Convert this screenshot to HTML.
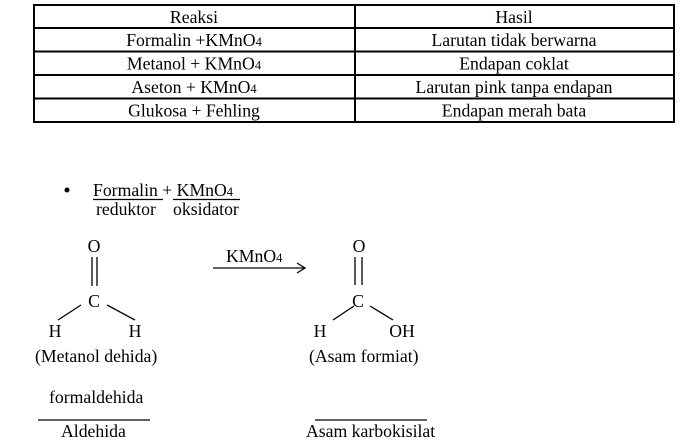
<!DOCTYPE html>
<html><head><meta charset="utf-8"><style>
html,body{margin:0;padding:0;background:#fff;width:682px;height:447px;overflow:hidden}
svg{display:block}
text{font-family:"Liberation Serif",serif;font-size:17.7px;fill:#000}
.c{text-anchor:middle}
</style></head><body>
<svg width="682" height="447" viewBox="0 0 682 447">
<g stroke="#000" stroke-width="2" fill="none">
<rect x="34" y="5" width="640" height="117"/>
<line x1="355" y1="5" x2="355" y2="122"/>
<line x1="34" y1="28" x2="674" y2="28"/>
<line x1="34" y1="51.5" x2="674" y2="51.5"/>
<line x1="34" y1="75" x2="674" y2="75"/>
<line x1="34" y1="98.5" x2="674" y2="98.5"/>
</g>
<text class="c" x="194" y="23">Reaksi</text>
<text class="c" x="194" y="46">Formalin +KMnO<tspan font-size="12.5">4</tspan></text>
<text class="c" x="194" y="69.5">Metanol + KMnO<tspan font-size="12.5">4</tspan></text>
<text class="c" x="194" y="93">Aseton + KMnO<tspan font-size="12.5">4</tspan></text>
<text class="c" x="194" y="116.5">Glukosa + Fehling</text>
<text class="c" x="514" y="23">Hasil</text>
<text class="c" x="514" y="46">Larutan tidak berwarna</text>
<text class="c" x="514" y="69.5">Endapan coklat</text>
<text class="c" x="514" y="93">Larutan pink tanpa endapan</text>
<text class="c" x="514" y="116.5">Endapan merah bata</text>

<circle cx="67" cy="190" r="2.5" fill="#000"/>
<text x="93" y="196">Formalin + KMnO<tspan font-size="12.5">4</tspan></text>
<g stroke="#000" stroke-width="1.3">
<line x1="93" y1="199.5" x2="163" y2="199.5"/>
<line x1="173" y1="199.5" x2="240" y2="199.5"/>
<line x1="92" y1="257" x2="92" y2="286"/><line x1="97" y1="257" x2="97" y2="286"/>
<line x1="58" y1="320" x2="81" y2="305"/><line x1="107" y1="305" x2="135" y2="320"/>
<line x1="213" y1="268" x2="305" y2="268"/>
<polyline points="297,263 305,268 297,273" fill="none"/>
<line x1="355" y1="257" x2="355" y2="285"/><line x1="362" y1="257" x2="362" y2="285"/>
<line x1="333" y1="320" x2="354" y2="306"/><line x1="370" y1="306" x2="393" y2="320"/>
<line x1="38" y1="420" x2="150" y2="420"/>
<line x1="315" y1="420" x2="427" y2="420"/>
</g>
<text x="96" y="215">reduktor</text>
<text x="173" y="215">oksidator</text>
<text class="c" x="94" y="252">O</text>
<text class="c" x="94" y="307">C</text>
<text class="c" x="55" y="337">H</text>
<text class="c" x="135" y="337">H</text>
<text x="35" y="362">(Metanol dehida)</text>
<text x="49" y="403">formaldehida</text>
<text x="61" y="437">Aldehida</text>
<text x="226" y="262">KMnO<tspan font-size="12.5">4</tspan></text>
<text class="c" x="359" y="252">O</text>
<text class="c" x="358" y="307">C</text>
<text class="c" x="320" y="337">H</text>
<text class="c" x="402" y="337">OH</text>
<text x="309" y="362">(Asam formiat)</text>
<text x="306" y="437">Asam karbokisilat</text>
</svg>
</body></html>
